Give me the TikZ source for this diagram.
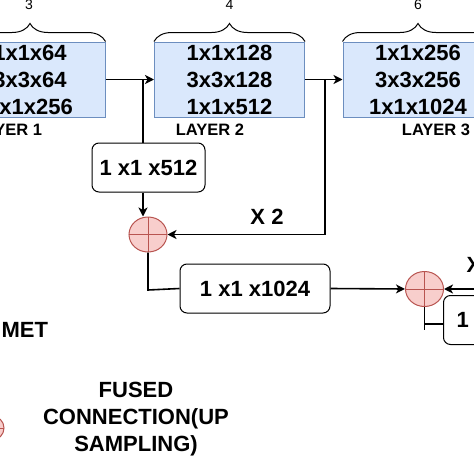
\documentclass[tikz,border=0pt]{standalone}
\usepackage{fontspec}
\setmainfont{Liberation Sans}
\usetikzlibrary{arrows.meta,decorations.pathreplacing,shapes.geometric}
\definecolor{layerfill}{HTML}{DAE8FC}
\definecolor{layerdraw}{HTML}{6C8EBF}
\definecolor{fusefill}{HTML}{F8CECC}
\definecolor{fusedraw}{HTML}{B85450}
\begin{document}
\begin{tikzpicture}[x=1pt,y=-1pt,
	layer/.style={draw=layerdraw,fill=layerfill,line width=1pt,minimum width=150pt,minimum height=75pt,inner sep=0pt,align=center,font=\fontsize{22}{27}\selectfont\bfseries},
	conv/.style={draw,fill=white,rounded corners=7pt,line width=1pt,minimum height=49pt,inner sep=0pt,font=\fontsize{22}{26}\selectfont\bfseries},
	fuse/.style={ellipse,draw=fusedraw,fill=fusefill,line width=1pt,minimum width=38pt,minimum height=35pt,inner sep=0pt,
		path picture={\draw[fusedraw,line width=1pt] (path picture bounding box.north) -- (path picture bounding box.south)
			(path picture bounding box.west) -- (path picture bounding box.east);}},
	link/.style={line width=1.6pt},
	arrow/.style={line width=1.6pt,arrows=-{Stealth[length=9pt,width=9pt,inset=2.5pt]}},
	lbl/.style={font=\fontsize{16.5}{18}\selectfont\bfseries},
	big/.style={font=\fontsize{22}{27}\selectfont\bfseries,align=center},
	count/.style={font=\fontsize{14}{14}\selectfont},
	brc/.style={decorate,decoration={brace,amplitude=18pt},line width=1pt}]
	\clip (0,0) rectangle (474,474);
	% Layers
	\node [layer] (L1) at (30,79.5) {1x1x64\\3x3x64\\1x1x256};
	\node [layer] (L2) at (229.5,79.5) {1x1x128\\3x3x128\\1x1x512};
	\node [layer] (L3) at (418,79.5) {1x1x256\\3x3x256\\1x1x1024};
		\node [lbl] (L1lbl) at (8,130) {LAYER 1};
		\node [lbl] (L2lbl) at (210,130) {LAYER 2};
		\node [lbl] (L3lbl) at (436,130) {LAYER 3};
	% Braces and repeats
	\draw [brc] (L1.north west) -- (L1.north east);
		\node [count] (n1) at (29,5) {3};
	\draw [brc] (L2.north west) -- (L2.north east);
		\node [count] (n2) at (229.5,5) {4};
	\draw [brc] (L3.north west) -- (L3.north east);
		\node [count] (n3) at (418,5) {6};
	% Main path
	\draw [arrow] (L1.east) -- (L2.west);
	\draw [arrow] (L2.east) -- (L3.west);
	% Side convolutions
	\node [conv,minimum width=113pt] (c512) at (148.5,167.5) {1 x1 x512};
	\node [conv,minimum width=150pt] (c1024) at (255,288.5) {1 x1 x1024};
	\node [conv,minimum width=80pt,anchor=west] (cnext) at (443,320) {};
		\node [big,anchor=west] (cnexttxt) at (453,320) {1};
	% Fusion nodes
	\node [fuse] (f1) at (148,234.5) {};
	\node [fuse] (f2) at (424.5,289) {};
	\coordinate (tap2) at (143,80);
	\coordinate (tap3) at (325,80);
	\coordinate (bend1) at (148,290);
	\coordinate (inright) at (490,289);
	\coordinate (stub) at (424.5,330);
	\coordinate (stubr) at (424.5,324);
	% Connectors
	\draw [link] (tap2) -- (tap2 |- c512.north);
	\draw [arrow] (c512.south -| tap2) -- (tap2 |- f1.north);
	\draw [arrow] (tap3) |- (f1.east);
		\node [big] (x2) at (267,217) {X 2};
	\draw [link] (f1.south) -- (bend1) -- (c1024.west);
	\draw [arrow] (c1024.east) -- (f2.west);
	\draw [arrow] (inright) -- (f2.east);
		\node [big,anchor=west] (x2b) at (463,265) {X 2};
	\draw [link] (f2.south) -- (stub);
	\draw [link] (stubr) -- (stubr -| cnext.west);
	% Legend
	\node [big,anchor=west] (met) at (-2,330) {MET};
	\node [fuse,minimum width=24pt,minimum height=24pt] (legf) at (-8,428) {};
	\node [big] (legtxt) at (136,419) {FUSED\\CONNECTION(UP\\SAMPLING)};
\end{tikzpicture}
\end{document}
